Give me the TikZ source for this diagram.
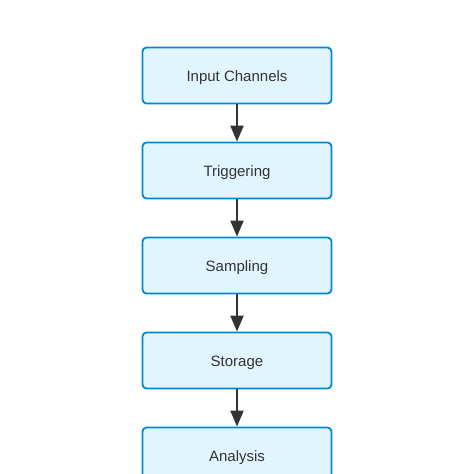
\documentclass[tikz,border=0pt]{standalone}
\usepackage{fontspec}
\setmainfont{Liberation Sans}
\usetikzlibrary{arrows.meta}
\definecolor{boxfill}{HTML}{E1F5FE}
\definecolor{boxline}{HTML}{0288D1}
\definecolor{txt}{HTML}{333333}
\definecolor{arr}{HTML}{333333}
\tikzset{
  stepbox/.style={draw=boxline, fill=boxfill, line width=1.8pt, rounded corners=4pt,
    minimum width=189pt, minimum height=56pt, inner sep=0pt, text height=12pt, text depth=0pt,
    font=\fontsize{15pt}{18pt}\selectfont, text=txt},
  flow/.style={draw=arr, line width=2pt, -{Triangle[length=16pt,width=13pt]}}
}
\begin{document}
\begin{tikzpicture}[x=1pt,y=-1pt]
\useasboundingbox (0,0) rectangle (474,474);
\node[stepbox] (a) at (237,75.5) {Input Channels};
\node[stepbox] (b) at (237,170.5) {Triggering};
\node[stepbox] (c) at (237,265.5) {Sampling};
\node[stepbox] (d) at (237,360.5) {Storage};
\node[stepbox] (e) at (237,455.5) {Analysis};
\draw[flow] (a) -- (b);
\draw[flow] (b) -- (c);
\draw[flow] (c) -- (d);
\draw[flow] (d) -- (e);
\end{tikzpicture}
\end{document}
